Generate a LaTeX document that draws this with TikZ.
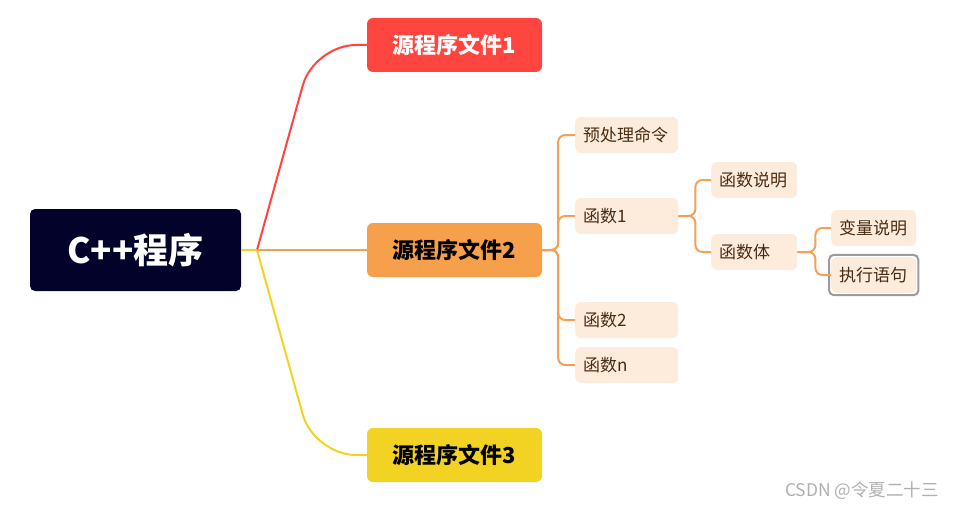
\documentclass[tikz,border=0pt]{standalone}
\usepackage{fontspec}
\setmainfont{Noto Sans CJK SC}
\usepackage{xcolor}
\definecolor{cRoot}{HTML}{03022B}
\definecolor{cRed}{HTML}{FF453F}
\definecolor{cOrange}{HTML}{F7A04B}
\definecolor{cYellow}{HTML}{F2D222}
\definecolor{cLight}{HTML}{FDEBDC}
\definecolor{cText}{HTML}{4A2C12}
\definecolor{cLine}{HTML}{F5A058}
\definecolor{cGray}{HTML}{9C9C9C}
\usetikzlibrary{positioning,fit}
\tikzset{
  node-root/.style={fill=cRoot,text=white,rounded corners=5pt,
    minimum width=211pt,minimum height=82pt,
    font=\fontsize{35}{40}\selectfont\bfseries},
  node-file/.style={rounded corners=6pt,minimum width=175pt,minimum height=54pt,
    font=\fontsize{22}{26}\selectfont\bfseries},
  node-sub/.style={fill=cLight,text=cText,rounded corners=6pt,anchor=west,
    inner xsep=8pt,minimum height=36pt,text width=#1,align=left,
    font=\fontsize{17}{20}\selectfont},
  node-sub/.default=87pt,
  branch/.style={line width=2pt,rounded corners=42pt},
  tree/.style={line width=2pt,draw=cLine,rounded corners=7pt},
}
\begin{document}
\begin{tikzpicture}[x=1pt,y=-1pt]
  \useasboundingbox (0,0) rectangle (962,511);
  % main branches
  \node[node-root] (root) at (135.5,250) {C++程序};
  \node[node-file,fill=cRed,text=white] (file1) at (454.5,45) {源程序文件1};
  \node[node-file,fill=cOrange] (file2) at (454.5,250) {源程序文件2};
  \node[node-file,fill=cYellow] (file3) at (454.5,455) {源程序文件3};
  \coordinate (fork) at (257,250);
  \draw[branch,cOrange] (fork) -- (file2.west);
  \draw[branch,cRed] (fork) -- (314,45) -- (file1.west);
  \draw[branch,cYellow] (fork) -- (314,455) -- (file3.west);
  \draw[line width=2pt,cYellow] (root.east) -- (fork);
  % 源程序文件2
  \node[node-sub] (pre) at (575,135) {预处理命令};
  \node[node-sub] (fun1) at (575,216) {函数1};
  \node[node-sub] (fun2) at (575,320) {函数2};
  \node[node-sub] (funn) at (575,365) {函数n};
  \foreach \k in {pre,fun1,fun2,funn}
    \draw[tree] (file2.east) -- ++(16,0) |- (\k.west);
  % 函数1
  \node[node-sub=70pt] (decl) at (711,180) {函数说明};
  \node[node-sub=70pt] (body) at (711,252) {函数体};
  \foreach \k in {decl,body}
    \draw[tree] (fun1.east) -- ++(17,0) |- (\k.west);
  % 函数体
  \node[node-sub=69pt] (var) at (831,228) {变量说明};
  \node[node-sub=69pt] (exec) at (831,275) {执行语句};
  \node[fit=(exec),inner sep=2pt,draw=cGray,line width=2pt,rounded corners=5pt] (sel) {};
  \foreach \k in {var,exec}
    \draw[tree] (body.east) -- ++(18,0) |- (\k.west);
  \node[text=cGray!80,font=\fontsize{17.5}{20}\selectfont] (mark) at (862,491) {CSDN @令夏二十三};
\end{tikzpicture}
\end{document}
